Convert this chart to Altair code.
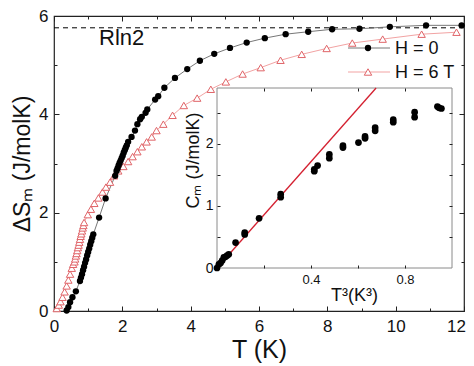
import altair as alt
import pandas as pd

# ---------------- data ----------------
T_H0 = [0.37, 0.42, 0.47, 0.54, 0.64, 0.76, 0.79, 0.82, 0.85, 0.88, 0.91, 0.94, 0.97,
        1.00, 1.03, 1.06, 1.09, 1.12, 1.15, 1.32, 1.51, 1.79, 1.83, 1.86, 1.89, 1.92,
        1.95, 1.98, 2.01, 2.04, 2.07, 2.10, 2.13, 2.17, 2.27, 2.37, 2.44, 2.52, 2.57,
        2.68, 2.73, 2.96, 3.05, 3.23, 3.54, 3.90, 4.27, 4.69, 5.15, 5.64, 6.17, 6.78,
        7.44, 8.14, 8.94, 9.83, 10.89, 11.93]
S_H0 = [0.01, 0.08, 0.18, 0.28, 0.40, 0.61, 0.68, 0.75, 0.83, 0.90, 0.98, 1.05, 1.13,
        1.20, 1.27, 1.35, 1.42, 1.49, 1.56, 1.90, 2.29, 2.75, 2.85, 2.90, 2.96, 3.01,
        3.06, 3.11, 3.16, 3.22, 3.27, 3.32, 3.37, 3.44, 3.54, 3.67, 3.80, 3.90, 3.95,
        4.03, 4.10, 4.30, 4.37, 4.54, 4.74, 4.92, 5.09, 5.23, 5.35, 5.46, 5.55, 5.63,
        5.68, 5.73, 5.74, 5.78, 5.81, 5.81]

T_H6 = [0.08, 0.14, 0.19, 0.25, 0.31, 0.37, 0.42, 0.47, 0.52, 0.56, 0.60, 0.62, 0.64,
        0.66, 0.68, 0.70, 0.72, 0.74, 0.76, 0.78, 0.80, 0.82, 0.84, 0.86, 0.88, 0.99,
        1.08, 1.18, 1.30, 1.42, 1.52, 1.64, 1.76, 1.88, 2.03, 2.17, 2.30, 2.44, 2.57,
        2.71, 2.86, 3.00, 3.20, 3.47, 3.80, 4.19, 4.59, 5.03, 5.52, 6.05, 6.63, 7.25,
        7.98, 8.73, 9.62, 10.76, 11.78]
S_H6 = [0.05, 0.12, 0.19, 0.28, 0.39, 0.51, 0.63, 0.75, 0.87, 0.95, 1.00, 1.06, 1.12,
        1.17, 1.23, 1.29, 1.34, 1.40, 1.46, 1.52, 1.57, 1.63, 1.69, 1.74, 1.80, 1.96,
        2.07, 2.19, 2.30, 2.42, 2.52, 2.62, 2.75, 2.85, 2.94, 3.04, 3.14, 3.24, 3.34,
        3.44, 3.54, 3.67, 3.80, 3.98, 4.18, 4.33, 4.51, 4.66, 4.82, 4.95, 5.10, 5.22,
        5.34, 5.45, 5.53, 5.63, 5.67]

INSET_T3 = [0.0, 0.008, 0.015, 0.022, 0.029, 0.036, 0.043, 0.050, 0.079, 0.118, 0.118,
            0.179, 0.271, 0.271, 0.414, 0.414, 0.428, 0.478, 0.478, 0.536, 0.536, 0.602,
            0.630, 0.630, 0.673, 0.673, 0.750, 0.750, 0.841, 0.841, 0.938, 0.955, 0.945]
INSET_C = [0.0, 0.06, 0.08, 0.12, 0.17, 0.18, 0.20, 0.22, 0.41, 0.57, 0.54,
           0.80, 1.19, 1.14, 1.59, 1.56, 1.65, 1.77, 1.83, 1.94, 1.97, 2.02,
           2.09, 2.12, 2.21, 2.26, 2.35, 2.39, 2.43, 2.51, 2.60, 2.57, 2.58]

FIT_T3 = [0.0, 0.677]
FIT_C = [0.0, 2.9]

RLN2 = [5.76]
SERIES = ["H = 0", "H = 6 T"]

X_DOMAIN = [0, 12]
Y_DOMAIN = [0, 6]
X_TICKS = list(range(0, 13))
X_LABELS = [0, 2, 4, 6, 8, 10, 12]
Y_TICKS = [0, 1, 2, 3, 4, 5, 6]
Y_LABELS = [0, 2, 4, 6]

INSET_X_DOMAIN = [0.0, 1.0]
INSET_Y_DOMAIN = [0.0, 2.9]
INSET_X_TICKS = [0.2, 0.4, 0.6, 0.8]
INSET_X_LABELS = [0.4, 0.8]
INSET_Y_TICKS = [0.5, 1, 1.5, 2, 2.5]
INSET_Y_LABELS = [0, 1, 2]

# ---------------- layout ----------------
TOP = 8
W, H = 410, 311 - 8 - TOP
IX0, IX1 = 163, 398
IY0, IY1 = 268 - 8 - TOP, 88 - 8 - TOP   # inset frame, in plot pixels
FONT = "Liberation Sans"
AX = "#222222"
RED = "#e06468"
PINK = "#f2a3a3"

xs = alt.Scale(domain=X_DOMAIN, nice=False, zero=False)
ys = alt.Scale(domain=Y_DOMAIN, nice=False, zero=False)
ixs = alt.Scale(domain=INSET_X_DOMAIN, range=[IX0, IX1], nice=False, zero=False)
iys = alt.Scale(domain=INSET_Y_DOMAIN, range=[IY0, IY1], nice=False, zero=False)


def tick_axis(orient, offset, values, test, major, minor, z=0):
    return alt.Axis(orient=orient, offset=offset, values=values, labels=False,
                    domain=False, grid=False, title=None, ticks=True,
                    tickColor=AX, tickWidth=1, zindex=z,
                    tickSize={"condition": {"test": test, "value": major}, "value": minor})


x_lab = alt.Axis(orient="bottom", values=X_LABELS, ticks=False, domain=False, grid=False,
                 labelFontSize=17, labelPadding=7, labelFlush=False, labelOverlap=False,
                 labelOffset={"condition": {"test": "datum.value === 12", "value": -8},
                              "value": 0},
                 title="T (K)", titleFontSize=25, titleFontWeight="normal",
                 titleX=W / 2, titleY=46, titleBaseline="alphabetic", titleAlign="center")
y_lab = alt.Axis(orient="left", values=Y_LABELS, ticks=False, domain=False, grid=False,
                 labelFontSize=17, labelPadding=6, labelFlush=False, labelOverlap=False,
                 title="ΔSₘ (J/molK)", titleFontSize=23, titleFontWeight="normal",
                 titleX=-25, titleY=H / 2, titleAngle=270, titleBaseline="alphabetic",
                 titleAlign="center")

even = "datum.value % 2 === 0"
x_in_bottom = tick_axis("top", -H, X_TICKS, even, 5, 3)
x_in_top = tick_axis("bottom", -H, X_TICKS, even, 5, 3)
y_in_left = tick_axis("right", -W, Y_TICKS, even, 5, 3)
y_in_right = tick_axis("left", -W, Y_TICKS, even, 5, 3)

ix_lab = alt.Axis(orient="bottom", offset=-(H - IY0), values=INSET_X_LABELS, ticks=False,
                  domain=False, grid=False, labelFontSize=13, labelPadding=5,
                  labelFlush=False, labelOverlap=False, format=".1f", zindex=1,
                  title="T³(K³)", titleFontSize=18, titleFontWeight="normal",
                  titleX=300, titleY=32, titleBaseline="alphabetic", titleAlign="center")
iy_lab = alt.Axis(orient="left", offset=-IX0, values=INSET_Y_LABELS, ticks=False,
                  domain=False, grid=False, labelFontSize=14, labelPadding=4,
                  labelFlush=False, labelOverlap=False, format="d", zindex=1,
                  title="Cₘ (J/molK)", titleFontSize=18, titleFontWeight="normal",
                  titleX=-19, titleY=160 - 8 - TOP, titleAngle=270,
                  titleBaseline="alphabetic", titleAlign="center")
any_t = "datum.value >= 0"
ix_in_bottom = tick_axis("top", -IY0, INSET_X_TICKS, any_t, 3, 3, 1)
ix_in_top = tick_axis("bottom", -(H - IY1), INSET_X_TICKS, any_t, 3, 3, 1)
iy_in_left = tick_axis("right", -(W - IX0), INSET_Y_TICKS, any_t, 3, 3, 1)
iy_in_right = tick_axis("left", -IX1, INSET_Y_TICKS, any_t, 3, 3, 1)

h0 = pd.DataFrame({"T": T_H0, "S": S_H0})
h6 = pd.DataFrame({"T": T_H6, "S": S_H6})
ins = pd.DataFrame({"t3": INSET_T3, "c": INSET_C})
fit = pd.DataFrame({"t3": FIT_T3, "c": FIT_C})
frame = pd.DataFrame({"x0": [INSET_X_DOMAIN[0]], "x1": [INSET_X_DOMAIN[1]],
                      "y0": [INSET_Y_DOMAIN[0]], "y1": [INSET_Y_DOMAIN[1]]})
rl = pd.DataFrame({"S": RLN2})
one = alt.Data(values=[{"k": 1}])

line0 = alt.Chart(h0).mark_line(color="#777777", strokeWidth=1).encode(
    x=alt.X("T:Q", scale=xs, axis=x_lab), y=alt.Y("S:Q", scale=ys, axis=y_lab))
pts0 = alt.Chart(h0).mark_circle(color="black", size=40, opacity=1).encode(
    x=alt.X("T:Q", scale=xs, axis=x_in_bottom), y=alt.Y("S:Q", scale=ys, axis=y_in_left))
line6 = alt.Chart(h6).mark_line(color=PINK, strokeWidth=1).encode(
    x=alt.X("T:Q", scale=xs, axis=x_in_top), y=alt.Y("S:Q", scale=ys, axis=y_in_right))
pts6 = alt.Chart(h6).mark_point(shape="triangle-up", filled=True, fill="white",
                                stroke=RED, strokeWidth=1, size=55, opacity=1).encode(
    x=alt.X("T:Q", scale=xs, axis=None), y=alt.Y("S:Q", scale=ys, axis=None))
rule = alt.Chart(rl).mark_rule(color="black", strokeWidth=1, strokeDash=[5, 4]).encode(
    y=alt.Y("S:Q", scale=ys, axis=None))
rln_txt = alt.Chart(one).mark_text(text="Rln2", font=FONT, fontSize=22, align="left",
                                   baseline="alphabetic", color="#111").encode(
    x=alt.value(45), y=alt.value(45 - 8 - TOP))

LY0, LY6 = 48 - 8 - TOP, 72 - 8 - TOP
leg_l0 = alt.Chart(one).mark_rule(color="#777777", strokeWidth=1).encode(
    x=alt.value(294), x2=alt.value(336), y=alt.value(LY0))
leg_p0 = alt.Chart(one).mark_circle(color="black", size=40, opacity=1).encode(
    x=alt.value(314), y=alt.value(LY0))
leg_t0 = alt.Chart(one).mark_text(text=SERIES[0], font=FONT, fontSize=18, align="left",
                                  baseline="middle", color="#111").encode(
    x=alt.value(341), y=alt.value(LY0 + 1))
leg_l6 = alt.Chart(one).mark_rule(color=PINK, strokeWidth=1).encode(
    x=alt.value(294), x2=alt.value(336), y=alt.value(LY6))
leg_p6 = alt.Chart(one).mark_point(shape="triangle-up", filled=True, fill="white",
                                   stroke=RED, strokeWidth=1, size=55, opacity=1).encode(
    x=alt.value(314), y=alt.value(LY6))
leg_t6 = alt.Chart(one).mark_text(text=SERIES[1], font=FONT, fontSize=18, align="left",
                                  baseline="middle", color="#111").encode(
    x=alt.value(341), y=alt.value(LY6 + 1))

inset_bg = alt.Chart(frame).mark_rect(fill="white", stroke="#8a8a8a", strokeWidth=1).encode(
    x=alt.X("x0:Q", scale=ixs, axis=ix_lab), x2="x1:Q",
    y=alt.Y("y0:Q", scale=iys, axis=iy_lab), y2="y1:Q")
inset_pts = alt.Chart(ins).mark_circle(color="black", size=45, opacity=1).encode(
    x=alt.X("t3:Q", scale=ixs, axis=ix_in_bottom), y=alt.Y("c:Q", scale=iys, axis=iy_in_left))
inset_fit = alt.Chart(fit).mark_line(color="#d42030", strokeWidth=1.3).encode(
    x=alt.X("t3:Q", scale=ixs, axis=ix_in_top), y=alt.Y("c:Q", scale=iys, axis=iy_in_right))

chart = alt.layer(
    rule, line6, line0, pts6, pts0, rln_txt,
    leg_l0, leg_p0, leg_t0, leg_l6, leg_p6, leg_t6,
    inset_bg, inset_fit, inset_pts,
).resolve_scale(x="independent", y="independent").resolve_axis(
    x="independent", y="independent"
).properties(
    width=W, height=H,
    padding={"left": 46, "top": TOP, "right": 2, "bottom": 52},
    autosize=alt.AutoSizeParams(type="none"),
).configure_view(stroke=AX, strokeWidth=1.2).configure_axis(
    labelFont=FONT, titleFont=FONT, labelColor="#111", titleColor="#111"
)

chart.save("out.html", embed_options={"renderer": "svg", "actions": False})
